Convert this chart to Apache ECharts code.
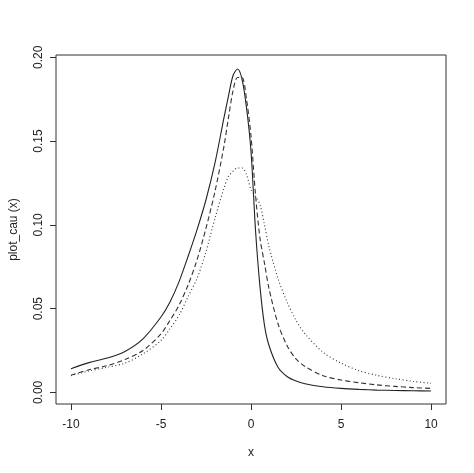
<!DOCTYPE html>
<html>
<head>
<meta charset="utf-8">
<script src="https://cdn.jsdelivr.net/npm/echarts@6/dist/echarts.min.js"></script>
<style>
  html, body { margin: 0; padding: 0; background: #fff; }
  #chart { width: 474px; height: 473px; }
</style>
</head>
<body>
<div id="chart"></div>
<script>
// values
const xs = [-10, -9, -8, -7, -6, -5, -4.5, -4, -3.5, -3, -2.5, -2, -1.5, -1.25, -1, -0.75, -0.5, -0.25,
  0, 0.25, 0.5, 0.75, 1, 1.5, 2, 2.5, 3, 4, 5, 6, 7, 8, 9, 10];
const solidY = [0.0142, 0.0178, 0.0205, 0.0245, 0.032, 0.045, 0.054, 0.066, 0.081, 0.097, 0.115, 0.137, 0.164, 0.177, 0.189, 0.193, 0.187, 0.170,
  0.144, 0.097, 0.063, 0.040, 0.028, 0.015, 0.0095, 0.0068, 0.0052, 0.0034, 0.0024, 0.0018, 0.0014, 0.0012, 0.0010, 0.0009];
const dashedY = [0.0103, 0.0135, 0.0160, 0.0196, 0.025, 0.035, 0.043, 0.052, 0.064, 0.079, 0.098, 0.120, 0.147, 0.164, 0.180, 0.188, 0.188, 0.175,
  0.153, 0.118, 0.092, 0.077, 0.062, 0.041, 0.028, 0.020, 0.0155, 0.0100, 0.0074, 0.0058, 0.0045, 0.0036, 0.0029, 0.0024];
const dottedY = [0.0100, 0.0128, 0.0150, 0.0175, 0.023, 0.031, 0.038, 0.046, 0.057, 0.068, 0.084, 0.104, 0.122, 0.129, 0.132, 0.134, 0.134, 0.130,
  0.121, 0.117, 0.112, 0.100, 0.087, 0.068, 0.054, 0.043, 0.035, 0.024, 0.0175, 0.0130, 0.0102, 0.0082, 0.0066, 0.0055];
const xTicks = [-10, -5, 0, 5, 10];
const yTicks = [0, 0.05, 0.1, 0.15, 0.2];

const pairs = (ys) => xs.map((x, i) => [x, ys[i]]);
const font = 'Liberation Sans, Arial, sans-serif';

const chart = echarts.init(document.getElementById('chart'), null, { renderer: 'canvas' });

const line = (name, ys, type, color) => ({
  name: name,
  type: 'line',
  data: pairs(ys),
  showSymbol: false,
  smooth: 0.3,
  lineStyle: { color: color, width: 1.1, type: type },
  z: 3
});

chart.setOption({
  animation: false,
  backgroundColor: '#fff',
  grid: {
    left: 55, top: 55, width: 391, height: 349,
    show: true, borderColor: '#333', borderWidth: 1, backgroundColor: 'transparent'
  },
  xAxis: {
    type: 'value',
    min: -10.83, max: 10.83,
    name: 'x',
    nameLocation: 'middle',
    nameGap: 43,
    nameTextStyle: { fontFamily: font, fontSize: 12, color: '#222' },
    axisLine: { show: false, onZero: false },
    splitLine: { show: false },
    axisTick: { show: true, customValues: xTicks, inside: false, length: 6, lineStyle: { color: '#333' } },
    axisLabel: { customValues: xTicks, margin: 15, fontFamily: font, fontSize: 12, color: '#222' }
  },
  yAxis: {
    type: 'value',
    min: -0.0069, max: 0.2014,
    name: 'plot_cau (x)',
    nameLocation: 'middle',
    nameRotate: 90,
    nameGap: 36,
    nameTextStyle: { fontFamily: font, fontSize: 12, color: '#222' },
    axisLine: { show: false, onZero: false },
    splitLine: { show: false },
    axisTick: { show: true, customValues: yTicks, inside: false, length: 6, lineStyle: { color: '#333' } },
    axisLabel: {
      customValues: yTicks, rotate: 90, margin: 11,
      fontFamily: font, fontSize: 12, color: '#222',
      formatter: (v) => v.toFixed(2)
    }
  },
  series: [
    line('solid', solidY, 'solid', '#222'),
    line('dashed', dashedY, [5, 3], '#333'),
    line('dotted', dottedY, [1, 2.5], '#333')
  ]
});
</script>
</body>
</html>
